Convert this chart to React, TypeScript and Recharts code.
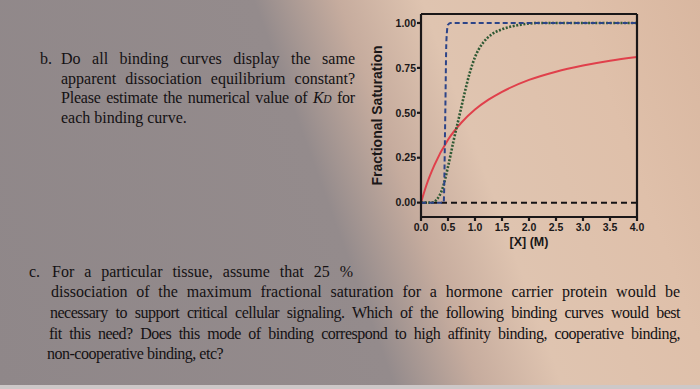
import React from "react";
import { LineChart, Line, XAxis, YAxis } from "recharts";

// tick values
const xTicks = [0, 0.5, 1, 1.5, 2, 2.5, 3, 3.5, 4];
const yTicks = [0, 0.25, 0.5, 0.75, 1];

// red solid: hyperbolic curve
const redX = [0, 0.1, 0.25, 0.5, 0.75, 1, 1.25, 1.5, 2, 2.5, 3, 3.5, 4];
const redY = [0, 0.097, 0.21, 0.35, 0.446, 0.518, 0.573, 0.617, 0.683, 0.729, 0.763, 0.79, 0.811];

// green dotted: sigmoidal curve
const greenX = [0, 0.2, 0.3, 0.4, 0.5, 0.6, 0.7, 0.8, 0.9, 1.0, 1.15, 1.3, 1.5, 1.8, 2.2, 4];
const greenY = [0, 0, 0.02, 0.08, 0.2, 0.34, 0.47, 0.6, 0.72, 0.81, 0.89, 0.935, 0.965, 0.988, 1, 1];

// blue dashed: step curve
const blueX = [0, 0.42, 0.45, 0.47, 0.5, 0.55, 4];
const blueY = [0, 0, 0.5, 0.9, 0.99, 1, 1];

// black dashed: flat at zero
const blackX = [0, 4];
const blackY = [0, 0];

const toPoints = (xs: number[], ys: number[]) => xs.map((x, i) => ({ x, y: ys[i] }));

const redData = toPoints(redX, redY);
const greenData = toPoints(greenX, greenY);
const blueData = toPoints(blueX, blueY);
const blackData = toPoints(blackX, blackY);

const ink = "#141113";
const axisInk = "#1a1718";
const sans = "Arial, 'Liberation Sans', sans-serif";
const tickFont = { fontFamily: sans, fontSize: 10.5, fontWeight: 700, fill: axisInk };

const serif = "'Liberation Serif', 'Times New Roman', serif";

function TextLine({ top, left, width, size, children, justify = true, spacing = 0 }: any) {
  return (
    <div
      style={{
        position: "absolute",
        top,
        left,
        width,
        fontFamily: serif,
        fontSize: size,
        lineHeight: "20px",
        color: ink,
        whiteSpace: "nowrap",
        textAlign: justify ? "justify" : "left",
        textAlignLast: justify ? "justify" : "left",
        letterSpacing: spacing
      }}
    >
      {children}
    </div>
  );
}

export default function App() {
  return (
    <div
      style={{
        position: "absolute",
        left: 0,
        top: 0,
        width: 700,
        height: 389,
        overflow: "hidden",
        background:
          "linear-gradient(70deg, #8f8789 0%, #948b8c 47%, #c6ac9e 57%, #dfc4b0 67%, #dfc0aa 85%, #d9b7a0 100%)"
      }}
    >
      <div style={{ position: "absolute", left: 0, bottom: 0, width: 700, height: 4, background: "#cdc8c8" }} />

      {/* question b */}
      <TextLine top={49} left={40} width={20} size={16} justify={false}>b.</TextLine>
      <TextLine top={49} left={61} width={294} size={16}>Do all binding curves display the same</TextLine>
      <TextLine top={69} left={61} width={294} size={16}>apparent dissociation equilibrium constant?</TextLine>
      <TextLine top={88} left={61} width={294} size={16} spacing={-0.2}>
        Please estimate the numerical value of <i>K<span style={{ fontSize: 11.5 }}>D</span></i> for
      </TextLine>
      <TextLine top={108} left={61} width={294} size={16} justify={false}>each binding curve.</TextLine>

      {/* the chart */}
      <div style={{ position: "absolute", left: 360, top: 0 }}>
        <LineChart width={300} height={250} margin={{ top: 9, right: 18, bottom: 4, left: 8 }}>
          <XAxis
            dataKey="x"
            type="number"
            domain={[0, 4]}
            ticks={xTicks}
            height={29}
            tickSize={4}
            tickMargin={3}
            stroke={axisInk}
            strokeWidth={2.2}
            tick={tickFont}
            tickFormatter={(v: number) => v.toFixed(1)}
            label={{
              value: "[X] (M)",
              position: "insideBottom",
              offset: 0,
              style: { fontFamily: sans, fontSize: 12.5, fontWeight: 700, fill: axisInk }
            }}
          />
          <XAxis
            xAxisId="top"
            orientation="top"
            dataKey="x"
            type="number"
            domain={[0, 4]}
            ticks={xTicks}
            height={5}
            tickSize={3}
            tick={false}
            stroke={axisInk}
            strokeWidth={2.2}
          />
          <YAxis
            type="number"
            domain={[-0.08, 1.05]}
            ticks={yTicks}
            width={53}
            tickSize={4}
            tickMargin={1}
            stroke={axisInk}
            strokeWidth={2.2}
            tick={tickFont}
            tickFormatter={(v: number) => v.toFixed(2)}
            label={{
              value: "Fractional Saturation",
              angle: -90,
              position: "insideLeft",
              offset: 9,
              style: { textAnchor: "middle", fontFamily: sans, fontSize: 14, fontWeight: 700, fill: axisInk }
            }}
          />
          <YAxis
            yAxisId="right"
            orientation="right"
            type="number"
            domain={[-0.08, 1.05]}
            ticks={yTicks}
            width={5}
            tickSize={3}
            tick={false}
            stroke={axisInk}
            strokeWidth={2.2}
          />
          <Line
            data={blackData}
            dataKey="y"
            type="linear"
            stroke="#141214"
            strokeWidth={2}
            strokeDasharray="6 4"
            dot={false}
            isAnimationActive={false}
          />
          <Line
            data={redData}
            dataKey="y"
            type="monotone"
            stroke="#e0404b"
            strokeWidth={2}
            dot={false}
            isAnimationActive={false}
          />
          <Line
            data={greenData}
            dataKey="y"
            type="monotone"
            stroke="#2f5934"
            strokeWidth={2.6}
            strokeDasharray="2 1.6"
            dot={false}
            isAnimationActive={false}
          />
          <Line
            data={blueData}
            dataKey="y"
            type="monotone"
            stroke="#2c4488"
            strokeWidth={2}
            strokeDasharray="5 3"
            dot={false}
            isAnimationActive={false}
          />
        </LineChart>
      </div>

      {/* question c */}
      <TextLine top={262} left={29} width={20} size={16} justify={false}>c.</TextLine>
      <TextLine top={262} left={52} width={301} size={16}>For a particular tissue, assume that 25 %</TextLine>
      <TextLine top={282} left={51} width={629} size={16}>
        dissociation of the maximum fractional saturation for a hormone carrier protein would be
      </TextLine>
      <TextLine top={303} left={50} width={630} size={16} spacing={-0.5}>
        necessary to support critical cellular signaling. Which of the following binding curves would best
      </TextLine>
      <TextLine top={324} left={49} width={631} size={16} spacing={-0.5}>
        fit this need? Does this mode of binding correspond to high affinity binding, cooperative binding,
      </TextLine>
      <TextLine top={344} left={47} width={300} size={16} spacing={-0.5} justify={false}>
        non-cooperative binding, etc?
      </TextLine>
    </div>
  );
}
